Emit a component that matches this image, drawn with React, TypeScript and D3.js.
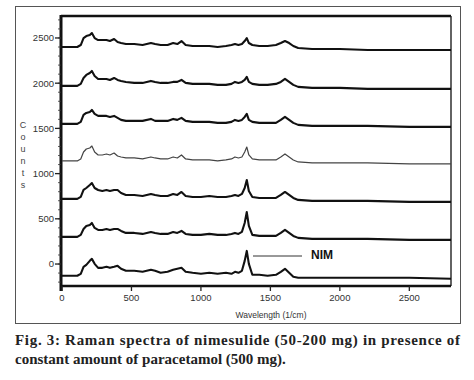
import React from "react";
import * as d3 from "d3";

// Shared wavenumber grid (1/cm)
const wavenumbers = [0, 110, 135, 155, 175, 200, 215, 235, 260, 290, 320, 345, 375, 400, 425, 460, 520, 580, 640, 670, 710, 760, 800, 830, 860, 890, 940, 1000, 1060, 1120, 1180, 1220, 1245, 1270, 1295, 1315, 1330, 1345, 1370, 1420, 1480, 1540, 1575, 1605, 1635, 1665, 1700, 1800, 2000, 2200, 2500, 2800];

// Counts for each spectrum (top to bottom), as plotted with their offsets
const spectrum1 = [2400, 2400, 2422, 2499, 2521, 2532, 2554, 2499, 2477, 2477, 2477, 2466, 2488, 2455, 2444, 2433, 2433, 2422, 2444, 2433, 2422, 2422, 2444, 2433, 2466, 2422, 2411, 2411, 2411, 2400, 2411, 2422, 2433, 2422, 2433, 2466, 2499, 2444, 2422, 2411, 2411, 2422, 2444, 2466, 2444, 2411, 2389, 2378, 2378, 2367, 2367, 2367];
const spectrum2 = [1970, 1970, 1992, 2058, 2091, 2113, 2135, 2080, 2047, 2047, 2047, 2036, 2058, 2036, 2025, 2014, 2003, 2003, 2025, 2014, 2003, 2003, 2014, 2014, 2036, 2003, 1992, 1992, 1992, 1981, 1981, 1992, 2014, 2003, 2014, 2036, 2069, 2014, 1992, 1981, 1981, 1992, 2014, 2047, 2014, 1981, 1959, 1948, 1948, 1937, 1937, 1937];
const spectrum3 = [1550, 1550, 1572, 1649, 1671, 1682, 1704, 1660, 1638, 1638, 1638, 1627, 1638, 1616, 1594, 1583, 1583, 1583, 1605, 1583, 1583, 1583, 1605, 1594, 1616, 1583, 1572, 1572, 1572, 1561, 1561, 1572, 1594, 1583, 1594, 1627, 1660, 1594, 1572, 1561, 1561, 1561, 1594, 1627, 1594, 1561, 1539, 1528, 1528, 1528, 1517, 1517];
const spectrum4 = [1140, 1140, 1162, 1239, 1272, 1283, 1305, 1239, 1206, 1206, 1217, 1206, 1228, 1195, 1184, 1173, 1173, 1162, 1184, 1173, 1162, 1162, 1184, 1173, 1206, 1162, 1151, 1151, 1151, 1140, 1151, 1162, 1184, 1173, 1184, 1239, 1294, 1206, 1162, 1151, 1151, 1151, 1184, 1217, 1184, 1151, 1129, 1118, 1118, 1118, 1107, 1107];
const spectrum5 = [720, 720, 742, 819, 841, 874, 896, 841, 819, 808, 819, 808, 819, 819, 786, 764, 764, 753, 775, 764, 753, 753, 775, 764, 797, 753, 742, 742, 753, 742, 742, 753, 764, 753, 775, 841, 929, 808, 742, 731, 731, 731, 764, 797, 764, 731, 709, 698, 698, 698, 687, 687];
const spectrum6 = [300, 300, 322, 388, 421, 432, 454, 399, 377, 377, 388, 377, 388, 388, 366, 344, 344, 333, 355, 344, 333, 333, 355, 344, 366, 333, 322, 322, 333, 322, 322, 333, 344, 333, 355, 454, 575, 421, 322, 311, 311, 311, 344, 377, 344, 311, 289, 278, 278, 278, 267, 267];
const spectrum7 = [-130, -130, -108, -31, -9, 35, 57, 2, -42, -42, -31, -42, -31, -20, -53, -75, -75, -86, -64, -75, -97, -86, -64, -53, -42, -86, -97, -108, -97, -108, -97, -108, -86, -97, -75, 35, 145, 2, -119, -119, -130, -119, -86, -53, -97, -141, -152, -152, -152, -152, -152, -163];

const spectra = [spectrum1, spectrum2, spectrum3, spectrum4, spectrum5, spectrum6, spectrum7];

const xTicks = [0, 500, 1000, 1500, 2000, 2500];
const yTicks = [0, 500, 1000, 1500, 2000, 2500];
const yMinorTicks = d3.range(-200, 2701, 100);
const yTitleLetters = ["C", "o", "u", "n", "t", "s"];

const xTitle = "Wavelength (1/cm)";
const annotation = "NIM";
const captionLine1 = "Fig. 3: Raman spectra of nimesulide (50-200 mg) in presence of";
const captionLine2 = "constant amount of paracetamol (500 mg).";

export default function App() {
  const W = 474;
  const H = 380;
  const left = 62;
  const right = 451;
  const top = 16;
  const bottom = 286;

  const x = d3.scaleLinear().domain([0, 2800]).range([left, right]);
  const y = d3.scaleLinear().domain([-243, 2743]).range([bottom, top]);

  const line = d3
    .line<number>()
    .x((_, i) => x(wavenumbers[i]))
    .y((d) => y(d))
    .curve(d3.curveLinear);

  const sans = "'Liberation Sans', Arial, sans-serif";
  const serif = "'Liberation Serif', 'Times New Roman', serif";

  return (
    <svg
      width={W}
      height={H}
      style={{ position: "absolute", left: 0, top: 0, background: "#fff" }}
    >
      <rect x={0} y={0} width={W} height={H} fill="#fff" />
      {/* outer frame */}
      <rect x={15.5} y={6.5} width={445} height={317} fill="none" stroke="#555" strokeWidth={1} />

      {/* plot box */}
      <line x1={left - 1} x2={right} y1={top} y2={top} stroke="#111" strokeWidth={2.6} />
      <line x1={right} x2={right} y1={top} y2={bottom} stroke="#222" strokeWidth={1.4} />
      <line x1={left - 1} x2={right} y1={bottom} y2={bottom} stroke="#111" strokeWidth={2.4} />
      <line x1={left - 1} x2={left - 1} y1={top - 1} y2={bottom + 5} stroke="#111" strokeWidth={3} />

      {/* y minor ticks */}
      {yMinorTicks.map((v) => (
        <line key={"m" + v} x1={left - 4} x2={left - 1} y1={y(v)} y2={y(v)} stroke="#333" strokeWidth={0.8} />
      ))}
      {/* y ticks */}
      {yTicks.map((v) => (
        <g key={"y" + v}>
          <line x1={left - 7} x2={left - 1} y1={y(v)} y2={y(v)} stroke="#222" strokeWidth={1.3} />
          <text
            x={left - 8}
            y={y(v)}
            dy="0.35em"
            textAnchor="end"
            fontFamily={sans}
            fontSize={9.5}
            fill="#333"
          >
            {v}
          </text>
        </g>
      ))}
      {/* x ticks */}
      {xTicks.map((v) => (
        <g key={"x" + v}>
          <line x1={x(v)} x2={x(v)} y1={bottom} y2={bottom + 5} stroke="#222" strokeWidth={1.3} />
          <text
            x={x(v)}
            y={bottom + 15}
            textAnchor="middle"
            fontFamily={sans}
            fontSize={9.5}
            fill="#333"
          >
            {v}
          </text>
        </g>
      ))}

      {/* axis titles */}
      <text x={271} y={318} textAnchor="middle" fontFamily={sans} fontSize={8.5} fill="#333">
        {xTitle}
      </text>
      {yTitleLetters.map((c, i) => (
        <text
          key={"t" + i}
          x={23}
          y={128 + i * 12}
          textAnchor="middle"
          fontFamily={sans}
          fontSize={9}
          fill="#444"
        >
          {c}
        </text>
      ))}

      {/* spectra */}
      {spectra.map((s, i) => (
        <path
          key={"s" + i}
          d={line(s) || ""}
          fill="none"
          stroke={i === 3 ? "#444" : "#111"}
          strokeWidth={i === 3 ? 1.2 : 2.1}
          strokeLinejoin="round"
        />
      ))}

      {/* annotation */}
      <line x1={253} x2={302} y1={256} y2={256} stroke="#333" strokeWidth={1} />
      <text x={311} y={259} fontFamily={sans} fontWeight="bold" fontSize={12} fill="#111">
        {annotation}
      </text>

      {/* caption */}
      <text
        x={15}
        y={345}
        fontFamily={serif}
        fontWeight="bold"
        fontSize={15}
        fill="#222"
        textLength={445}
        lengthAdjust="spacing"
      >
        {captionLine1}
      </text>
      <text x={15} y={364} fontFamily={serif} fontWeight="bold" fontSize={15} fill="#222">
        {captionLine2}
      </text>
    </svg>
  );
}
